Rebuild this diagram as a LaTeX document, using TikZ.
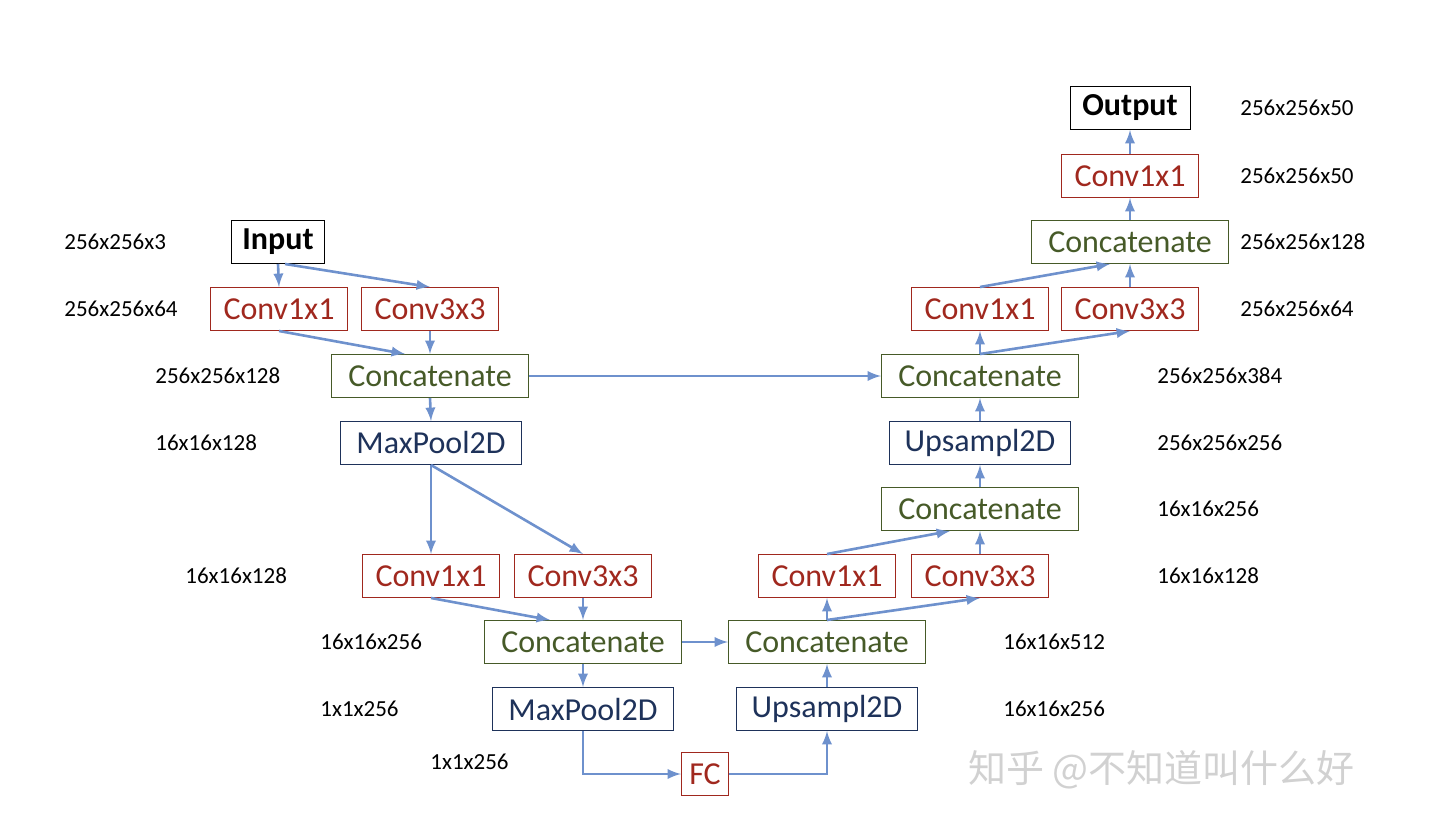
\documentclass[tikz,border=0pt]{standalone}
\usepackage{fontspec}
\setmainfont{Carlito}
\newfontfamily\cjk{Noto Sans CJK SC}
\usetikzlibrary{calc}
\definecolor{cred}{RGB}{160,40,30}
\definecolor{cgreen}{RGB}{70,90,40}
\definecolor{cnavy}{RGB}{30,50,90}
\definecolor{carrow}{RGB}{110,145,205}
\begin{document}
\begin{tikzpicture}[x=0.5pt,y=-0.5pt,
 box/.style={draw,line width=0.5pt,minimum height=21.5pt,inner sep=2pt,font=\fontsize{16}{18}\selectfont},
 rb/.style={box,draw=cred,text=cred,minimum width=68.5pt},
 gb/.style={box,draw=cgreen,text=cgreen,minimum width=98.5pt},
 nb/.style={box,draw=cnavy,text=cnavy,minimum width=90.5pt},
 kb/.style={box,draw=black,font=\bfseries\fontsize{16}{18}\selectfont},
 lab/.style={anchor=west,font=\fontsize{11.5}{13}\selectfont,inner sep=0pt},
 ar/.style={draw=carrow,line width=1.3pt,-latex}]
\useasboundingbox (0,0) rectangle (1440,830);
\node[kb,minimum width=46.5pt] (in) at (278,242) {Input};
\node[rb] (a1) at (279,309) {Conv1x1};
\node[rb] (a3) at (430,309) {Conv3x3};
\node[gb] (ac) at (430,376) {Concatenate};
\node[nb] (am) at (431,443) {MaxPool2D};
\node[rb] (b1) at (431,576) {Conv1x1};
\node[rb] (b3) at (583,576) {Conv3x3};
\node[gb] (bc) at (583,642) {Concatenate};
\node[nb] (bm) at (583,709) {MaxPool2D};
\node[box,draw=cred,text=cred,minimum width=23.5pt] (fc) at (705,774) {FC};
\node[nb] (cu) at (827,709) {Upsampl2D};
\node[gb] (cc) at (827,642) {Concatenate};
\node[rb] (c1) at (827,576) {Conv1x1};
\node[rb] (c3) at (980,576) {Conv3x3};
\node[gb] (dc) at (980,509) {Concatenate};
\node[nb] (du) at (980,443) {Upsampl2D};
\node[gb] (ec) at (980,376) {Concatenate};
\node[rb] (e1) at (980,309) {Conv1x1};
\node[rb] (e3) at (1130,309) {Conv3x3};
\node[gb] (fcc) at (1130,242) {Concatenate};
\node[rb] (f1) at (1130,176) {Conv1x1};
\node[kb,minimum width=60pt] (out) at (1130,108) {Output};
% arrows
\draw[ar] (in.south) -- (a1.north);
\draw[ar] ($(in.south)+(7,0)$) -- (a3.north);
\draw[ar] (a1.south) -- ($(ac.north)+(-25,0)$);
\draw[ar] (a3.south) -- (ac.north);
\draw[ar] (ac.east) -- (ec.west);
\draw[ar] (ac.south) -- (am.north);
\draw[ar] (am.south) -- (b1.north);
\draw[ar] (am.south) -- (b3.north);
\draw[ar] (b1.south) -- ($(bc.north)+(-33,0)$);
\draw[ar] (b3.south) -- (bc.north);
\draw[ar] (bc.south) -- (bm.north);
\draw[ar] (bc.east) -- (cc.west);
\draw[ar] (bm.south) |- (fc.west);
\draw[ar] (fc.east) -| (cu.south);
\draw[ar] (cu.north) -- (cc.north |- cu.north) ++(0,0) (cu.north) -- (cc.south);
\draw[ar] (cc.north) -- (c1.south);
\draw[ar] (cc.north) -- (c3.south);
\draw[ar] (c1.north) -- ($(dc.south)+(-30,0)$);
\draw[ar] (c3.north) -- (dc.south);
\draw[ar] (dc.north) -- (du.south);
\draw[ar] (du.north) -- (ec.south);
\draw[ar] (ec.north) -- (e1.south);
\draw[ar] (ec.north) -- (e3.south);
\draw[ar] (e1.north) -- ($(fcc.south)+(-20,0)$);
\draw[ar] (e3.north) -- (fcc.south);
\draw[ar] (fcc.north) -- (f1.south);
\draw[ar] (f1.north) -- (out.south);
% labels
\node[lab] (l1) at (64,242) {256x256x3};
\node[lab] (l2) at (64,309) {256x256x64};
\node[lab] (l3) at (155,376) {256x256x128};
\node[lab] (l4) at (155,443) {16x16x128};
\node[lab] (l5) at (185,576) {16x16x128};
\node[lab] (l6) at (320,642) {16x16x256};
\node[lab] (l7) at (320,709) {1x1x256};
\node[lab] (l8) at (430,762) {1x1x256};
\node[lab] (r1) at (1240,108) {256x256x50};
\node[lab] (r2) at (1240,176) {256x256x50};
\node[lab] (r3) at (1240,242) {256x256x128};
\node[lab] (r4) at (1240,309) {256x256x64};
\node[lab] (r5) at (1157,376) {256x256x384};
\node[lab] (r6) at (1157,443) {256x256x256};
\node[lab] (r7) at (1157,509) {16x16x256};
\node[lab] (r8) at (1157,576) {16x16x128};
\node[lab] (r9) at (1003,642) {16x16x512};
\node[lab] (r10) at (1003,709) {16x16x256};
\node[anchor=west,inner sep=0pt,text=black!18,font=\cjk\fontsize{19}{22}\selectfont] (wm) at (968,770) {知乎 @不知道叫什么好};
\end{tikzpicture}
\end{document}
